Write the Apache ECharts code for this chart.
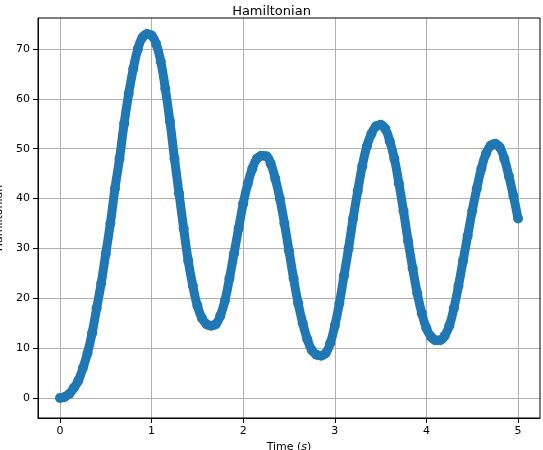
<!DOCTYPE html>
<html>
<head>
<meta charset="utf-8">
<script src="https://cdn.jsdelivr.net/npm/echarts@6/dist/echarts.min.js"></script>
<style>html,body{margin:0;padding:0;background:#fff}#chart{width:543px;height:450px}</style>
</head>
<body>
<div id="chart"></div>
<script>
// 数据：时间（步长0.05s）和哈密顿量
const times = Array.from({length: 101}, (_, i) => +(i * 0.05).toFixed(2));
const hamiltonian = [
  0, 0.2, 0.8, 2, 3.5, 6, 9, 13, 18, 23,
  29, 35, 42, 48, 55, 61, 66, 70, 72.3, 73,
  72.7, 71, 67.5, 62, 55.5, 48, 41, 34, 27.5, 22.5,
  18.5, 16, 14.8, 14.5, 14.8, 16.5, 19.5, 24, 29, 34,
  39, 43, 46, 48, 48.6, 48.5, 47, 44, 40, 35,
  29.5, 24, 19, 15, 11.8, 9.6, 8.7, 8.5, 9, 11,
  14.5, 19, 24.5, 30, 36, 41.5, 46.5, 50.5, 53, 54.5,
  54.8, 54, 51.5, 48, 43, 37.5, 31.5, 26, 21, 17,
  14, 12.3, 11.6, 11.6, 12.5, 14.5, 18, 22.5, 27.5, 32.5,
  37.5, 42, 46, 49, 50.6, 51, 50.3, 48, 44.5, 40.5, 36
];
const xTicks = [0, 1, 2, 3, 4, 5];
const yTicks = [0, 10, 20, 30, 40, 50, 60, 70];

const font = 'DejaVu Sans';
const chart = echarts.init(document.getElementById('chart'));
chart.setOption({
  animation: false,
  title: {text: 'Hamiltonian', left: 'center', top: 0,
    textStyle: {fontFamily: font, fontSize: 13, fontWeight: 'normal', color: '#000'}},
  grid: {left: 38, right: 3, top: 18, bottom: 32, outerBoundsMode: 'none', containLabel: false},
  xAxis: {
    type: 'value', min: -0.24, max: 5.24,
    name: 'Time ({i|s})', nameLocation: 'middle', nameGap: 20,
    nameTextStyle: {fontFamily: font, fontSize: 11, color: '#000',
      rich: {i: {fontStyle: 'italic', fontFamily: font, fontSize: 11}}},
    axisLine: {onZero: false, lineStyle: {color: '#000'}},
    axisTick: {customValues: xTicks, lineStyle: {color: '#000'}},
    axisLabel: {customValues: xTicks, fontFamily: font, fontSize: 11, color: '#000'},
    splitLine: {show: true, lineStyle: {color: '#b0b0b0'}}
  },
  yAxis: {
    type: 'value', min: -4, max: 76.2,
    name: 'Hamiltonian', nameLocation: 'middle', nameGap: 26,
    nameTextStyle: {fontFamily: font, fontSize: 11, color: '#000'},
    axisLine: {show: true, onZero: false, lineStyle: {color: '#000'}},
    axisTick: {show: true, customValues: yTicks, lineStyle: {color: '#000'}},
    axisLabel: {customValues: yTicks, fontFamily: font, fontSize: 11, color: '#000'},
    splitLine: {show: true, lineStyle: {color: '#b0b0b0'}}
  },
  series: [{
    type: 'line',
    data: times.map((t, i) => [t, hamiltonian[i]]),
    smooth: true,
    symbol: 'circle', symbolSize: 10, showSymbol: true,
    itemStyle: {color: '#1f77b4'},
    lineStyle: {color: '#1f77b4', width: 9}
  }]
});
// 补全右侧和上方边框
chart.setOption({graphic: [{type: 'rect', shape: {x: 38, y: 18, width: 502, height: 400},
  style: {fill: 'none', stroke: '#000', lineWidth: 1}, silent: true}]});
</script>
</body>
</html>
